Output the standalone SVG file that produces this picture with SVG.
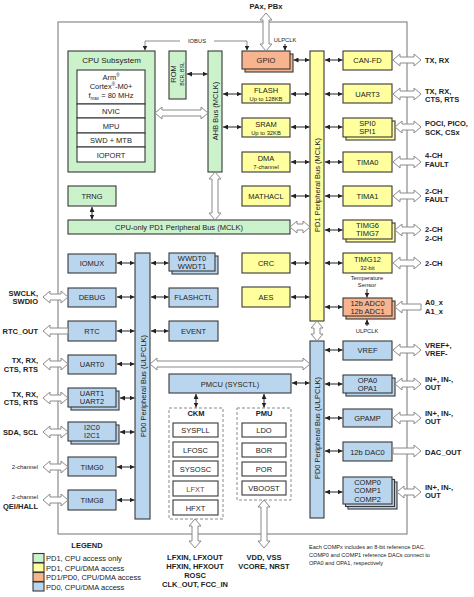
<svg xmlns="http://www.w3.org/2000/svg" width="474" height="597" viewBox="0 0 474 597">
<style>
.g{fill:#ccf2cc;stroke:#383838;stroke-width:1.1}
.y{fill:#ffff9e;stroke:#383838;stroke-width:1.1}
.o{fill:#f8b48e;stroke:#383838;stroke-width:1.1}
.b{fill:#bad6ef;stroke:#383838;stroke-width:1.1}
.w{fill:#fff;stroke:#383838;stroke-width:1.1}
.dsh{fill:none;stroke:#8a8a8a;stroke-width:1;stroke-dasharray:3 2}
text{font-family:"Liberation Sans",Arial,sans-serif;fill:#222}
.t{font-size:7.5px;text-anchor:middle}
.s{font-size:5.8px;text-anchor:middle}
.bl{font-size:7.5px;font-weight:bold}
.r{text-anchor:end}
.c{text-anchor:middle}
.ha{fill:#fff;stroke:#8a8a8a;stroke-width:1}
.ar{stroke:#222;stroke-width:1;fill:none;marker-start:url(#a);marker-end:url(#a)}
.a1{stroke:#222;stroke-width:1;fill:none;marker-end:url(#a)}
.io{stroke:#8a8a8a;stroke-width:1;fill:none;marker-end:url(#a)}
</style>
<defs>
<marker id="a" viewBox="0 0 6 6" refX="6" refY="3" markerWidth="5" markerHeight="5" orient="auto-start-reverse"><path d="M0,0L6,3L0,6z" fill="#222"/></marker>
</defs>
<rect x="0" y="0" width="474" height="597" fill="#fff"/>
<rect id="frame" x="58" y="22" width="349" height="512" fill="none" stroke="#8a8a8a" stroke-width="1.2"/>

<g id="cpu">
<rect class="g" x="68" y="51" width="87" height="121"/>
<text class="t" x="111.5" y="63" style="font-size:8px">CPU Subsystem</text>
<rect class="w" x="77" y="70" width="68" height="34"/>
<text class="t" x="111" y="80">Arm<tspan font-size="4.5" dy="-3">®</tspan></text>
<text class="t" x="111" y="89">Cortex<tspan font-size="4.5" dy="-3">®</tspan><tspan dy="3">-M0+</tspan></text>
<text class="t" x="111" y="98">f<tspan font-size="4.5" dy="1.5">max</tspan><tspan dy="-1.5"> = 80 MHz</tspan></text>
<rect class="w" x="77" y="104" width="68" height="14"/><text class="t" x="111" y="114">NVIC</text>
<rect class="w" x="77" y="118" width="68" height="15"/><text class="t" x="111" y="128.5">MPU</text>
<rect class="w" x="77" y="133" width="68" height="14"/><text class="t" x="111" y="143">SWD + MTB</text>
<rect class="w" x="77" y="147" width="68" height="15"/><text class="t" x="111" y="157.5">IOPORT</text>
</g>
<g id="rom"><rect class="g" x="169" y="51" width="17" height="48"/>
<text class="t" transform="translate(176,74) rotate(-90)">ROM</text>
<text class="s" transform="translate(183.5,74) rotate(-90)" style="font-size:5.2px">BCR, BSL</text></g>
<g id="ahb"><rect class="g" x="208" y="51" width="14" height="121"/>
<text class="t" transform="translate(217.7,111) rotate(-90)">AHB Bus (MCLK)</text></g>
<g id="trng"><rect class="g" x="68" y="186" width="48" height="20"/><text class="t" x="92" y="199">TRNG</text></g>
<g id="cpubus"><rect class="g" x="68" y="220" width="222" height="14"/><text class="t" x="179" y="230">CPU-only PD1 Peripheral Bus (MCLK)</text></g>

<g id="gpio"><rect class="o" x="245" y="54" width="48" height="18"/><rect class="o" x="242" y="51" width="48" height="18"/><text class="t" x="266" y="63">GPIO</text></g>
<g id="flash"><rect class="y" x="242" y="84" width="48" height="19"/><text class="t" x="266" y="92.5">FLASH</text><text class="s" x="266" y="100.5">Up to 128KB</text></g>
<g id="sram"><rect class="y" x="242" y="118" width="48" height="19"/><text class="t" x="266" y="126.5">SRAM</text><text class="s" x="266" y="134.5">Up to 32KB</text></g>
<g id="dma"><rect class="y" x="242" y="152" width="48" height="20"/><text class="t" x="266" y="161">DMA</text><text class="s" x="266" y="169">7-channel</text></g>
<g id="mathacl"><rect class="y" x="242" y="186" width="48" height="20"/><text class="t" x="266" y="199">MATHACL</text></g>
<g id="crc"><rect class="y" x="242" y="253" width="48" height="20"/><text class="t" x="266" y="266">CRC</text></g>
<g id="aes"><rect class="y" x="242" y="287" width="48" height="20"/><text class="t" x="266" y="300">AES</text></g>

<g id="pd1bus"><rect class="y" x="310" y="51" width="14" height="270"/>
<text class="t" transform="translate(320,185) rotate(-90)">PD1 Peripheral Bus (MCLK)</text></g>

<g id="canfd"><rect class="y" x="343" y="51" width="49" height="19"/><text class="t" x="367.5" y="63">CAN-FD</text></g>
<g id="uart3"><rect class="y" x="343" y="84" width="49" height="19"/><text class="t" x="367.5" y="96.5">UART3</text></g>
<g id="spi"><rect class="y" x="346" y="121" width="49" height="19"/><rect class="y" x="343" y="118" width="49" height="19"/><text class="t" x="367.5" y="126">SPI0</text><text class="t" x="367.5" y="134">SPI1</text></g>
<g id="tima0"><rect class="y" x="343" y="152" width="49" height="20"/><text class="t" x="367.5" y="165">TIMA0</text></g>
<g id="tima1"><rect class="y" x="343" y="186" width="49" height="20"/><text class="t" x="367.5" y="199">TIMA1</text></g>
<g id="timg6"><rect class="y" x="346" y="223" width="49" height="19"/><rect class="y" x="343" y="220" width="49" height="19"/><text class="t" x="367.5" y="228">TIMG6</text><text class="t" x="367.5" y="236">TIMG7</text></g>
<g id="timg12"><rect class="y" x="343" y="253" width="49" height="20"/><text class="t" x="367.5" y="261.5">TIMG12</text><text class="s" x="367.5" y="270">32-bit</text></g>
<g id="adc"><rect class="o" x="346" y="301" width="49" height="18"/><rect class="o" x="343" y="298" width="49" height="18"/><text class="t" x="367.5" y="305.5">12b ADC0</text><text class="t" x="367.5" y="313.5">12b ADC1</text></g>
<text class="s" x="367" y="280">Temperature</text><text class="s" x="367" y="287">Sensor</text>
<text class="s" x="367" y="333">ULPCLK</text>
<text class="s" x="285" y="42">ULPCLK</text>
<text class="s" x="197" y="43">IOBUS</text>

<g id="pd0bus-l"><rect class="b" x="135" y="253" width="15" height="266"/>
<text class="t" transform="translate(145.5,386) rotate(-90)">PD0 Peripheral Bus (ULPCLK)</text></g>
<g id="iomux"><rect class="b" x="68" y="254" width="48" height="19"/><text class="t" x="92" y="266">IOMUX</text></g>
<g id="debug"><rect class="b" x="68" y="288" width="48" height="19"/><text class="t" x="92" y="300">DEBUG</text></g>
<g id="rtc"><rect class="b" x="68" y="321" width="48" height="20"/><text class="t" x="92" y="334">RTC</text></g>
<g id="uart0"><rect class="b" x="68" y="355" width="48" height="19"/><text class="t" x="92" y="367">UART0</text></g>
<g id="uart1"><rect class="b" x="71" y="391" width="48" height="19"/><rect class="b" x="68" y="388" width="48" height="19"/><text class="t" x="92" y="396">UART1</text><text class="t" x="92" y="404">UART2</text></g>
<g id="i2c"><rect class="b" x="71" y="425" width="48" height="19"/><rect class="b" x="68" y="422" width="48" height="19"/><text class="t" x="92" y="430">I2C0</text><text class="t" x="92" y="438">I2C1</text></g>
<g id="timg0"><rect class="b" x="68" y="457" width="48" height="19"/><text class="t" x="92" y="469.5">TIMG0</text></g>
<g id="timg8"><rect class="b" x="68" y="490" width="48" height="20"/><text class="t" x="92" y="503">TIMG8</text></g>
<g id="wwdt"><rect class="b" x="172" y="256" width="46" height="18"/><rect class="b" x="169" y="253" width="46" height="18"/><text class="t" x="192" y="261">WWDT0</text><text class="t" x="192" y="269">WWDT1</text></g>
<g id="flashctl"><rect class="b" x="169" y="288" width="49" height="19"/><text class="t" x="193.5" y="300">FLASHCTL</text></g>
<g id="event"><rect class="b" x="169" y="321" width="49" height="20"/><text class="t" x="193.5" y="334">EVENT</text></g>
<g id="pmcu"><rect class="b" x="169" y="374" width="122" height="19"/><text class="t" x="230" y="386.5">PMCU (SYSCTL)</text></g>

<g id="ckm"><rect class="dsh" x="169" y="408" width="54" height="111"/>
<text class="t" x="196" y="416" font-weight="bold">CKM</text>
<rect class="w" x="173" y="423" width="45" height="14"/><text class="t" x="195.5" y="433">SYSPLL</text>
<rect class="w" x="173" y="442" width="45" height="15"/><text class="t" x="195.5" y="452.5">LFOSC</text>
<rect class="w" x="173" y="461" width="45" height="15"/><text class="t" x="195.5" y="471.5">SYSOSC</text>
<rect class="w" x="173" y="481" width="45" height="15"/><text class="t" x="195.5" y="491.5" style="fill:#7a4a2a">LFXT</text>
<rect class="w" x="173" y="500" width="45" height="15"/><text class="t" x="195.5" y="510.5">HFXT</text></g>
<g id="pmu"><rect class="dsh" x="237" y="408" width="54" height="92"/>
<text class="t" x="264" y="416" font-weight="bold">PMU</text>
<rect class="w" x="242" y="423" width="44" height="14"/><text class="t" x="264" y="433">LDO</text>
<rect class="w" x="242" y="443" width="44" height="14"/><text class="t" x="264" y="453">BOR</text>
<rect class="w" x="242" y="462" width="44" height="14"/><text class="t" x="264" y="472">POR</text>
<rect class="w" x="242" y="481" width="44" height="14"/><text class="t" x="264" y="491">VBOOST</text></g>

<g id="pd0bus-r"><rect class="b" x="310" y="341" width="14" height="177"/>
<text class="t" transform="translate(320,428) rotate(-90)">PD0 Peripheral Bus (ULPCLK)</text></g>
<g id="vref"><rect class="b" x="343" y="341" width="49" height="19"/><text class="t" x="367.5" y="353">VREF</text></g>
<g id="opa"><rect class="b" x="346" y="378" width="49" height="18"/><rect class="b" x="343" y="375" width="49" height="18"/><text class="t" x="367.5" y="382.5">OPA0</text><text class="t" x="367.5" y="390.5">OPA1</text></g>
<g id="gpamp"><rect class="b" x="343" y="409" width="49" height="18"/><text class="t" x="367.5" y="421">GPAMP</text></g>
<g id="dac"><rect class="b" x="343" y="442" width="49" height="19"/><text class="t" x="367.5" y="454.5">12b DAC0</text></g>
<g id="comp"><rect class="b" x="348" y="482" width="49" height="27"/><rect class="b" x="345.5" y="479.5" width="49" height="27"/><rect class="b" x="343" y="477" width="49" height="27"/>
<text class="t" x="367.5" y="484.5">COMP0</text><text class="t" x="367.5" y="493">COMP1</text><text class="t" x="367.5" y="501.5">COMP2</text></g>

<g id="connectors">
<path class="io" d="M180,41 H145 V50.5"/>
<path class="io" d="M214,41 H247 V50.5"/>
<path class="a1" d="M285,44 V50.5"/>
<path class="a1" d="M367,289 V297.5"/>
<path class="a1" d="M367,326 V319.5"/>
<path class="ar" d="M187,74 H207.5"/>
<path class="ar" d="M223,94 H241.5"/><path class="ar" d="M223,127 H241.5"/>
<path class="ar" d="M293.5,60 H309.5"/><path class="ar" d="M291,94 H309.5"/><path class="ar" d="M291,127 H309.5"/>
<path class="ar" d="M291,162 H309.5"/><path class="ar" d="M291,196 H309.5"/><path class="ar" d="M291,263 H309.5"/><path class="ar" d="M291,297 H309.5"/>
<path class="ar" d="M325,60 H342.5"/><path class="ar" d="M325,94 H342.5"/><path class="ar" d="M325,127 H342.5"/><path class="ar" d="M325,162 H342.5"/>
<path class="ar" d="M325,196 H342.5"/><path class="ar" d="M325,230 H342.5"/><path class="ar" d="M325,263 H342.5"/><path class="ar" d="M325,307 H342.5"/>
<path class="ar" d="M325,350 H342.5"/><path class="ar" d="M325,384 H342.5"/><path class="ar" d="M325,418 H342.5"/><path class="ar" d="M325,451 H342.5"/><path class="ar" d="M325,492 H342.5"/>
<path class="ar" d="M292,383 H309.5"/>
<path class="ar" d="M117,263 H134.5"/><path class="ar" d="M117,297 H134.5"/><path class="ar" d="M117,331 H134.5"/><path class="ar" d="M117,364 H134.5"/>
<path class="ar" d="M120,398 H134.5"/><path class="ar" d="M120,432 H134.5"/><path class="ar" d="M117,467 H134.5"/><path class="ar" d="M117,500 H134.5"/>
<path class="ar" d="M151,263 H168.5"/><path class="ar" d="M151,297 H168.5"/><path class="ar" d="M151,331 H168.5"/>
<path class="ar" d="M92,207 V219.5"/>
<path class="ar" d="M196,394 V407.5"/><path class="ar" d="M264,394 V407.5"/>

<polygon class="ha" points="266,13 272,20 269,20 269,44 272,44 266,51 260,44 263,44 263,20 260,20"/>
<polygon class="ha" points="155,113 162,107 162,110 201,110 201,107 208,113 201,119 201,116 162,116 162,119"/>
<polygon class="ha" points="215,172 221,179 218,179 218,213 221,213 215,220 209,213 212,213 212,179 209,179"/>
<polygon class="ha" points="290,227 297,221 297,224 303,224 303,221 310,227 303,233 303,230 297,230 297,233"/>
<polygon class="ha" points="317,321 323,328 320,328 320,334 323,334 317,341 311,334 314,334 314,328 311,328"/>
<polygon class="ha" points="150,364 157,358 157,361 303,361 303,358 310,364 303,370 303,367 157,367 157,370"/>
<polygon class="ha" points="195,519 201,526 198,526 198,541 201,541 195,548 189,541 192,541 192,526 189,526"/>
<polygon class="ha" points="264,500 270,507 267,507 267,541 270,541 264,548 258,541 261,541 261,507 258,507"/>

<polygon class="ha" points="393,60 400,54 400,57 414,57 414,54 421,60 414,66 414,63 400,63 400,66"/>
<polygon class="ha" points="393,94 400,88 400,91 414,91 414,88 421,94 414,100 414,97 400,97 400,100"/>
<polygon class="ha" points="395,127 402,121 402,124 414,124 414,121 421,127 414,133 414,130 402,130 402,133"/>
<polygon class="ha" points="393,162 400,156 400,159 414,159 414,156 421,162 414,168 414,165 400,165 400,168"/>
<polygon class="ha" points="393,196 400,190 400,193 414,193 414,190 421,196 414,202 414,199 400,199 400,202"/>
<polygon class="ha" points="395,230 402,224 402,227 414,227 414,224 421,230 414,236 414,233 402,233 402,236"/>
<polygon class="ha" points="393,263 400,257 400,260 414,260 414,257 421,263 414,269 414,266 400,266 400,269"/>
<polygon class="ha" points="395,307 402,301 402,304 421,304 421,310 402,310 402,313"/>
<polygon class="ha" points="393,350 400,344 400,347 414,347 414,344 421,350 414,356 414,353 400,353 400,356"/>
<polygon class="ha" points="395,384 402,378 402,381 414,381 414,378 421,384 414,390 414,387 402,387 402,390"/>
<polygon class="ha" points="393,418 400,412 400,415 414,415 414,412 421,418 414,424 414,421 400,421 400,424"/>
<polygon class="ha" points="393,448 414,448 414,445 421,451 414,457 414,454 393,454"/>
<polygon class="ha" points="397,492 404,486 404,489 414,489 414,486 421,492 414,498 414,495 404,495 404,498"/>

<polygon class="ha" points="43,297 50,291 50,294 61,294 61,291 68,297 61,303 61,300 50,300 50,303"/>
<polygon class="ha" points="43,331 50,325 50,328 68,328 68,334 50,334 50,337"/>
<polygon class="ha" points="43,364 50,358 50,361 61,361 61,358 68,364 61,370 61,367 50,367 50,370"/>
<polygon class="ha" points="43,398 50,392 50,395 61,395 61,392 68,398 61,404 61,401 50,401 50,404"/>
<polygon class="ha" points="43,432 50,426 50,429 61,429 61,426 68,432 61,438 61,435 50,435 50,438"/>
<polygon class="ha" points="43,467 50,461 50,464 61,464 61,461 68,467 61,473 61,470 50,470 50,473"/>
<polygon class="ha" points="43,500 50,494 50,497 61,497 61,494 68,500 61,506 61,503 50,503 50,506"/>
</g>

<g id="labels">
<text class="bl c" x="266" y="9">PAx, PBx</text>
<text class="bl" x="425" y="63">TX, RX</text>
<text class="bl" x="425" y="94">TX, RX,</text><text class="bl" x="425" y="102">CTS, RTS</text>
<text class="bl" x="425" y="126">POCI, PICO,</text><text class="bl" x="425" y="135">SCK, CSx</text>
<text class="bl" x="425" y="158">4-CH</text><text class="bl" x="425" y="167">FAULT</text>
<text class="bl" x="425" y="194">2-CH</text><text class="bl" x="425" y="202">FAULT</text>
<text class="bl" x="425" y="232">2-CH</text><text class="bl" x="425" y="241">2-CH</text>
<text class="bl" x="425" y="266">2-CH</text>
<text class="bl" x="425" y="305">A0_x</text><text class="bl" x="425" y="314">A1_x</text>
<text class="bl" x="425" y="348">VREF+,</text><text class="bl" x="425" y="356">VREF-</text>
<text class="bl" x="425" y="382">IN+, IN-,</text><text class="bl" x="425" y="390">OUT</text>
<text class="bl" x="425" y="416">IN+, IN-,</text><text class="bl" x="425" y="424">OUT</text>
<text class="bl" x="425" y="455">DAC_OUT</text>
<text class="bl" x="425" y="490">IN+, IN-,</text><text class="bl" x="425" y="498">OUT</text>

<text class="bl r" x="38" y="296">SWCLK,</text><text class="bl r" x="38" y="304">SWDIO</text>
<text class="bl r" x="38" y="334">RTC_OUT</text>
<text class="bl r" x="38" y="363">TX, RX,</text><text class="bl r" x="38" y="372">CTS, RTS</text>
<text class="bl r" x="38" y="397">TX, RX,</text><text class="bl r" x="38" y="405">CTS, RTS</text>
<text class="bl r" x="38" y="435">SDA, SCL</text>
<text class="r" x="38" y="469" style="font-size:6px">2-channel</text>
<text class="r" x="38" y="499" style="font-size:6px">2-channel</text><text class="bl r" x="38" y="509">QEI/HALL</text>

<text class="bl c" x="195" y="560">LFXIN, LFXOUT</text>
<text class="bl c" x="195" y="569">HFXIN, HFXOUT</text>
<text class="bl c" x="195" y="578">ROSC</text>
<text class="bl c" x="195" y="587">CLK_OUT, FCC_IN</text>
<text class="bl c" x="264" y="560">VDD, VSS</text>
<text class="bl c" x="264" y="569">VCORE, NRST</text>

<text x="309" y="549" style="font-size:5.6px">Each COMPx includes an 8-bit reference DAC.</text>
<text x="309" y="557" style="font-size:5.6px">COMP0 and COMP1 reference DACs connect to</text>
<text x="309" y="565" style="font-size:5.6px">OPA0 and OPA1, respectively</text>
</g>

<g id="legend">
<text class="bl c" x="87" y="548">LEGEND</text>
<rect class="g" x="33" y="553.5" width="11" height="9"/><text x="46" y="561" style="font-size:7.5px">PD1, CPU access only</text>
<rect class="y" x="33" y="563" width="11" height="9"/><text x="46" y="570.5" style="font-size:7.5px">PD1, CPU/DMA access</text>
<rect class="o" x="33" y="572.5" width="11" height="9"/><text x="46" y="580" style="font-size:7.5px">PD1/PD0, CPU/DMA access</text>
<rect class="b" x="33" y="582" width="11" height="9"/><text x="46" y="589.5" style="font-size:7.5px">PD0, CPU/DMA access</text>
</g>
</svg>
